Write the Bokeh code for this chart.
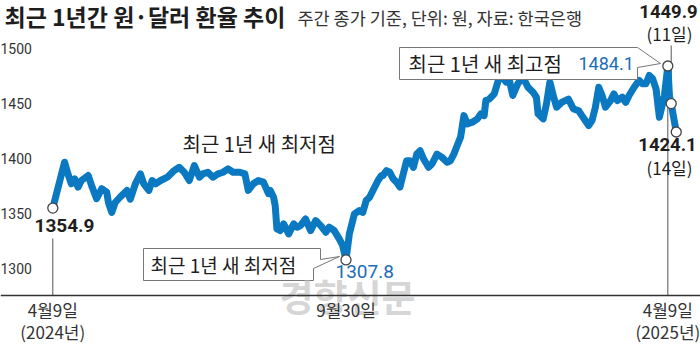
import pandas as pd
from bokeh.plotting import figure
from bokeh.models import Range1d, Span
from bokeh.core.properties import value
from bokeh.embed import file_html
from bokeh.resources import INLINE

# ---------------- data ----------------
start_date = "2024-04-09"
day_offsets = [0, 7, 9, 11, 13, 15, 17, 21, 23, 26, 29, 32, 33, 35, 37, 40, 42, 44, 46, 49,
               52, 54, 57, 59, 61, 64, 68, 72, 75, 78, 81, 84, 87, 89, 92, 95, 98, 101, 104, 107,
               111, 114, 116, 119, 122, 125, 128, 129, 131, 132, 133, 135, 137, 140, 143, 145, 147, 150, 153, 156,
               159, 162, 164, 167, 170, 172, 174, 176, 179, 182, 184, 186, 188, 190, 193, 195, 196, 198, 200, 202,
               204, 206, 208, 210, 212, 214, 216, 218, 220, 223, 225, 228, 231, 234, 236, 238, 240, 242, 244, 246,
               249, 252, 254, 256, 257, 259, 262, 265, 267, 269, 271, 273, 276, 279, 282, 285, 287, 288, 291, 293,
               295, 297, 299, 302, 306, 309, 312, 314, 316, 318, 320, 322, 324, 326, 328, 331, 333, 335, 338, 340,
               342, 345, 348, 350, 352, 354, 356, 358, 360, 363, 365, 366, 367, 370]
rates = [1354.9, 1396.6, 1386.0, 1377.0, 1381.5, 1374.0, 1380.0, 1384.5, 1375.5, 1363.4, 1372.5, 1369.4, 1360.0, 1351.0, 1360.0, 1365.0, 1368.0, 1371.0, 1363.0, 1377.0,
         1386.0, 1377.0, 1371.0, 1380.0, 1377.0, 1380.0, 1383.0, 1389.0, 1392.0, 1387.5, 1380.0, 1393.6, 1383.0, 1386.0, 1387.5, 1383.0, 1386.0, 1387.5, 1390.6, 1387.5,
         1387.5, 1386.0, 1371.0, 1377.0, 1380.0, 1378.5, 1368.0, 1371.0, 1365.0, 1357.0, 1336.0, 1334.5, 1340.6, 1331.5, 1340.6, 1337.5, 1339.0, 1345.0, 1334.5, 1343.6,
         1339.0, 1333.0, 1337.5, 1334.5, 1327.0, 1321.0, 1307.8, 1331.5, 1349.7, 1352.7, 1351.0, 1361.8, 1364.8, 1370.9, 1380.0, 1384.5, 1384.5, 1389.0, 1387.5, 1381.5,
         1378.5, 1374.0, 1386.0, 1398.0, 1398.0, 1392.0, 1404.0, 1407.0, 1399.7, 1392.0, 1395.0, 1404.0, 1401.0, 1396.6, 1398.0, 1404.0, 1411.8, 1419.4, 1439.0, 1431.5,
         1433.0, 1436.0, 1440.6, 1439.0, 1452.7, 1454.0, 1458.8, 1474.0, 1474.0, 1469.4, 1471.0, 1457.3, 1468.0, 1474.0, 1464.8, 1460.3, 1455.7, 1440.6, 1436.0, 1449.7,
         1469.4, 1457.3, 1446.6, 1451.0, 1454.0, 1445.0, 1443.6, 1439.0, 1434.5, 1430.0, 1434.5, 1446.6, 1464.8, 1457.3, 1446.6, 1452.7, 1458.8, 1452.7, 1455.7, 1451.0,
         1457.3, 1464.8, 1471.0, 1468.0, 1468.0, 1475.5, 1472.5, 1463.4, 1437.5, 1457.3, 1484.1, 1456.4, 1449.9, 1424.1]
assert len(day_offsets) == len(rates)

y_ticks = [1300, 1350, 1400, 1450, 1500]
x_tick_dates = ["2024-04-09", "2024-09-30", "2025-04-09"]
x_tick_line1 = ["4월9일", "9월30일", "4월9일"]
x_tick_line2 = ["(2024년)", "", "(2025년)"]

title_text = "최근 1년간 원·달러 환율 추이"
subtitle_text = "주간 종가 기준, 단위: 원, 자료: 한국은행"
low_text = "최근 1년 새 최저점"
high_text = "최근 1년 새 최고점"
day11_text = "(11일)"
day14_text = "(14일)"
watermark = "경향신문"

# ---------------- layout helpers (pixel -> data) ----------------
W, H = 700, 344
PX_PER_DAY = 1.685
X_ORIGIN_PX = 52.3
PX_PER_WON = 1.1
Y_1500_PX = 48.0


def dx(px):
    return (px - X_ORIGIN_PX) / PX_PER_DAY


def dy(py):
    return 1500 - (py - Y_1500_PX) / PX_PER_WON


KR = "Noto Sans CJK KR"
NUM = "Roboto"
BLUE = "#0a79c1"
BLUE_TXT = "#1b6db5"
DARK = "#1e1e1e"
GRAY = "#555555"

p = figure(width=W, height=H, output_backend="svg", toolbar_location=None,
           x_range=Range1d(dx(0), dx(W)), y_range=Range1d(dy(H), dy(0)),
           x_axis_type=None, y_axis_type=None, min_border=0,
           background_fill_color="white", border_fill_color="white")
p.outline_line_color = None
p.grid.visible = False

t0 = pd.Timestamp(start_date)
tick_days = [(pd.Timestamp(d) - t0).days for d in x_tick_dates]

i_max = rates.index(max(rates))
i_min = rates.index(min(rates))
i_11 = day_offsets.index(367)
i_14 = day_offsets.index(370)

base_y = dy(295)

# baseline
p.add_layout(Span(location=base_y, dimension="width", line_color="#333333", line_width=1.5))

# vertical guide lines
p.segment(x0=[day_offsets[0], day_offsets[i_max], day_offsets[i_11]],
          y0=[dy(238), rates[i_max], dy(45)],
          x1=[day_offsets[0], day_offsets[i_max], day_offsets[i_11]],
          y1=[base_y, base_y, rates[i_11]],
          line_color=GRAY, line_width=1)

# main series
p.line(day_offsets, rates, line_color=BLUE, line_width=7, line_join="round", line_cap="round")

# callout boxes
hi_px = [(399, 47), (637, 47), (660, 63), (637, 67), (637, 79), (399, 79)]
lo_px = [(143, 248), (320, 248), (320, 259), (339, 256), (313, 268), (313, 280), (143, 280)]
for shape in (hi_px, lo_px):
    p.patch([dx(a) for a, b in shape], [dy(b) for a, b in shape],
            fill_color="white", line_color="#777777", line_width=1)

# key markers
mk = [0, i_min, i_max, i_11, i_14]
p.scatter([day_offsets[i] for i in mk], [rates[i] for i in mk], size=10,
          fill_color="white", line_color="#444444", line_width=1.3)


def txt(px, py, s, size, color=DARK, bold=False, font=KR, align="left", baseline="middle", alpha=1.0):
    p.text(x=[dx(px)], y=[dy(py)], text=[s], text_font=value(font),
           text_font_size=f"{size}px", text_font_style="bold" if bold else "normal",
           text_color=color, text_align=align, text_baseline=baseline, text_alpha=alpha)


# watermark
txt(347, 295, watermark, 37, color="#c4c4c4", bold=True, align="center", alpha=0.7)

# title & subtitle
txt(4, 15, title_text, 23, bold=True)
txt(297, 17, subtitle_text, 17.5, color="#333333")

# y tick labels
p.text(x=[dx(0)] * len(y_ticks), y=y_ticks, text=[str(t) for t in y_ticks],
       text_font=value(NUM), text_font_size="14px", text_color="#333333",
       text_align="left", text_baseline="middle")

# x tick labels
p.text(x=tick_days, y=[dy(309)] * 3, text=x_tick_line1, text_font=value(KR),
       text_font_size="17px", text_color="#333333", text_align="center", text_baseline="middle")
p.text(x=tick_days, y=[dy(331)] * 3, text=x_tick_line2, text_font=value(KR),
       text_font_size="17px", text_color="#333333", text_align="center", text_baseline="middle")

# annotations
txt(182, 143, low_text, 20)
txt(150, 264, low_text, 19)
txt(408, 63, high_text, 20)
txt(578, 63, f"{rates[i_max]:.1f}", 18, color=BLUE_TXT, font=NUM)
txt(335, 271, f"{rates[i_min]:.1f}", 19, color=BLUE_TXT, font=NUM)
txt(64, 225, f"{rates[0]:.1f}", 19, bold=True, font=NUM, align="center")
txt(668, 11, f"{rates[i_11]:.1f}", 18.5, bold=True, font=NUM, align="center")
txt(669, 33, day11_text, 17, align="center")
txt(667, 144, f"{rates[i_14]:.1f}", 18.5, bold=True, font=NUM, align="center")
txt(669, 167, day14_text, 17, align="center")

open("out.html", "w").write(file_html(p, INLINE))
